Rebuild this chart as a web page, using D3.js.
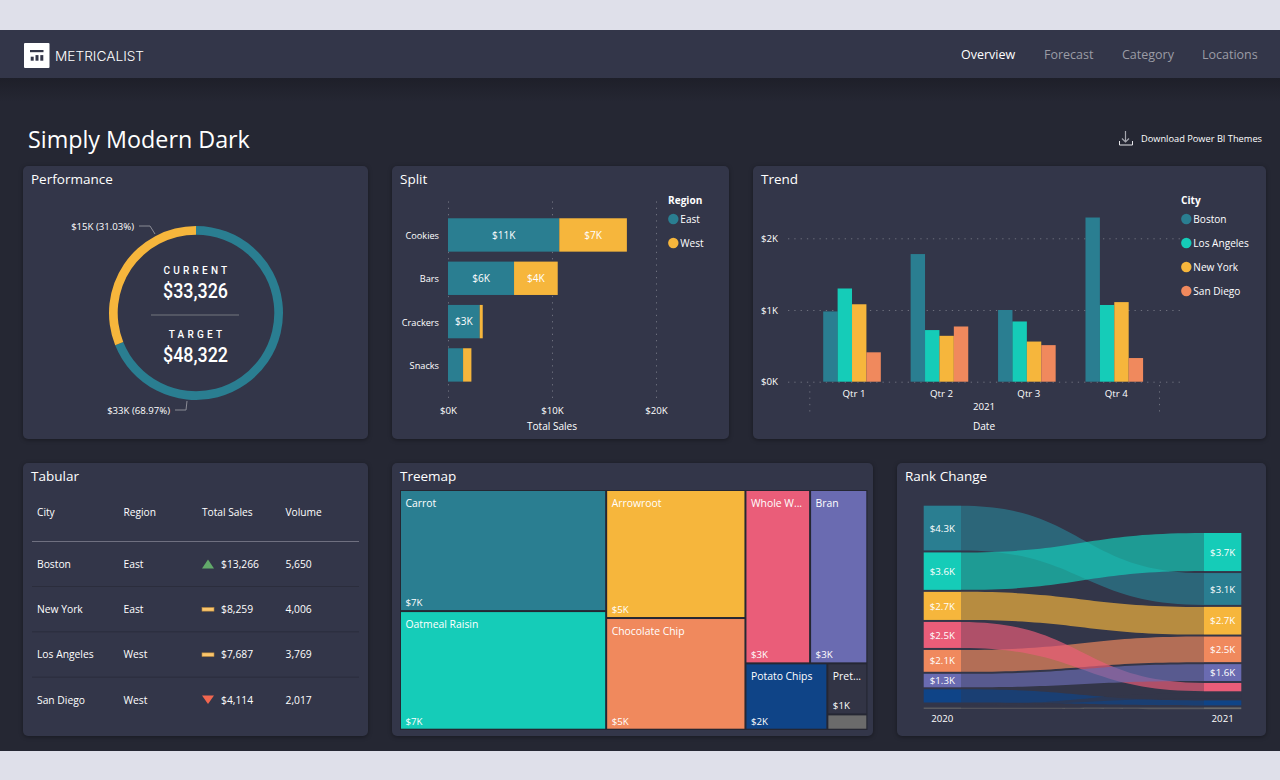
<!DOCTYPE html>
<html>
    <head>
        <meta charset="utf-8">
        <title>Simply Modern Dark</title>
        <script src="https://d3js.org/d3.v7.min.js"></script>
        <style>
            body { margin: 0; background: #dfe0ea; }
            svg { display: block; }
            text { font-family: "Open Sans", sans-serif; fill: #fff; font-size: 10.1px; font-weight: 500; }
            .panel { fill: #333649; filter: drop-shadow(0 1px 2px rgba(0,0,0,.35)); }
            .panelTitle { font-size: 13.5px; font-weight: 400; }
            .grid line { stroke: #6d6f7d; stroke-dasharray: 1.3 5; }
            .axis .domain { display: none; }
            .nav { font-size: 12.5px; fill: #9b9ca5; }
        </style>
    </head>
    <body>
        <svg width="1280" height="780"></svg>
        <script type="text/javascript">

        // colours shared by the whole page
        var teal = "#2a7e91", mint = "#15ccb8", yellow = "#f6b63c", orange = "#f0895d",
            pink = "#ea5d79", purple = "#6a6bb1", navy = "#0f4487", dark = "#333649", gray = "#6b6b6b";

        // nav
        var navItems = ["Overview", "Forecast", "Category", "Locations"];

        // performance donut
        var donutLabels = ["$33K (68.97%)", "$15K (31.03%)"];
        var donutValues = [33326, 14996];
        var donutColors = [teal, yellow];

        // split
        var splitCategories = ["Cookies", "Bars", "Crackers", "Snacks"];
        var splitRegions = ["East", "West"];
        var splitEast = [10700, 6350, 3050, 1450];
        var splitWest = [6500, 4200, 290, 800];
        var splitTicks = [0, 10000, 20000];

        // trend
        var trendQuarters = ["Qtr 1", "Qtr 2", "Qtr 3", "Qtr 4"];
        var trendCities = ["Boston", "Los Angeles", "New York", "San Diego"];
        var trendBoston = [980, 1780, 1000, 2290];
        var trendLA = [1300, 720, 840, 1070];
        var trendNY = [1080, 640, 560, 1110];
        var trendSD = [410, 770, 510, 330];
        var trendTicks = [0, 1000, 2000];
        var trendColors = [teal, mint, yellow, orange];

        // tabular
        var tableHead = ["City", "Region", "Total Sales", "Volume"];
        var tableCity = ["Boston", "New York", "Los Angeles", "San Diego"];
        var tableRegion = ["East", "East", "West", "West"];
        var tableSales = [13266, 8259, 7687, 4114];
        var tableVolume = [5650, 4006, 3769, 2017];
        var tableStatus = ["up", "flat", "flat", "down"];

        // treemap
        var treeNames = ["Carrot", "Oatmeal Raisin", "Arrowroot", "Chocolate Chip", "Whole W...", "Bran", "Potato Chips", "Pret...", ""];
        var treeValues = [7.35, 7.2, 5.25, 4.58, 3.3, 2.92, 1.6, 0.6, 0.18];
        var treeColors = [teal, mint, yellow, orange, pink, purple, navy, "#323445", gray];

        // rank change, index points into the series below
        var rankSeries = ["Carrot", "Oatmeal Raisin", "Arrowroot", "Chocolate Chip", "Whole Wheat", "Bran", "Potato Chips", "Pretzels", "Other"];
        var rankColors = [teal, mint, yellow, orange, pink, purple, navy, dark, gray];
        var rank2020 = [4.3, 3.6, 2.7, 2.1, 2.5, 1.3, 1.27, 0.11, 0.1];
        var rank2021 = [3.06, 3.66, 2.66, 2.46, 0.8, 1.62, 0.48, 0.49, 0.17];
        var rankYears = ["2020", "2021"];

        var svg = d3.select("svg");
        var kFormat = function(v) { return "$" + d3.format(".0f")(v / 1000) + "K"; };

        function addPanel(x, y, w, h, title) {
            svg.append("rect").attr("class", "panel").attr("x", x).attr("y", y)
                .attr("width", w).attr("height", h).attr("rx", 5);
            svg.append("text").attr("class", "panelTitle").attr("x", x + 8).attr("y", y + 18).text(title);
        }

        function addLegend(x, title, names, colors) {
            svg.append("text").attr("x", x).attr("y", 203.5).style("font-weight", 700).text(title);
            var rows = svg.append("g").selectAll("g").data(names).enter().append("g")
                .attr("transform", function(d, i) { return "translate(" + (x + 5.3) + "," + (219 + i * 24) + ")"; });
            rows.append("circle").attr("r", 5.2).attr("fill", function(d, i) { return colors[i]; });
            rows.append("text").attr("x", 7).attr("y", 3.6).text(function(d) { return d; });
        }

        // page frame
        var shade = svg.append("defs").append("linearGradient").attr("id", "shade")
            .attr("x1", 0).attr("y1", 0).attr("x2", 0).attr("y2", 1);
        shade.append("stop").attr("offset", 0).attr("stop-color", "#1e1f29");
        shade.append("stop").attr("offset", 1).attr("stop-color", "#252733");
        svg.append("rect").attr("y", 78).attr("width", 1280).attr("height", 673).attr("fill", "#252733");
        svg.append("rect").attr("y", 78).attr("width", 1280).attr("height", 24).attr("fill", "url(#shade)");
        svg.append("rect").attr("y", 30).attr("width", 1280).attr("height", 48).attr("fill", dark);

        // logo
        svg.append("rect").attr("x", 24).attr("y", 43).attr("width", 25.5).attr("height", 25).attr("rx", 1).attr("fill", "#fff");
        svg.append("rect").attr("x", 30).attr("y", 50).attr("width", 13.5).attr("height", 2.2).attr("fill", dark);
        svg.append("g").selectAll("rect").data([[30.7, 4], [35.5, 5.6], [40.3, 5.6]]).enter().append("rect")
            .attr("x", function(d) { return d[0]; }).attr("y", function(d) { return 60.7 - d[1]; })
            .attr("width", 3).attr("height", function(d) { return d[1]; }).attr("fill", dark);
        svg.append("text").attr("x", 55).attr("y", 60.5)
            .style("font-family", "Inter").style("font-size", "13.7px").style("font-weight", 300).text("METRICALIST");

        // nav items
        var navX = d3.scaleOrdinal().domain(navItems).range([961, 1044, 1122, 1202]);
        svg.append("g").selectAll("text").data(navItems).enter().append("text")
            .attr("class", "nav").attr("x", function(d) { return navX(d); }).attr("y", 59)
            .style("fill", function(d, i) { return i == 0 ? "#fff" : "#9b9ca5"; })
            .text(function(d) { return d; });

        // title and download link
        svg.append("text").attr("x", 28).attr("y", 148).style("font-size", "23.3px").style("font-weight", 400).text("Simply Modern Dark");
        svg.append("path").attr("d", "M1125.5 131V141.5M1122 138.5L1125.5 142L1129 138.5").attr("fill", "none").attr("stroke", "#a5a6ae").attr("stroke-width", 1.2);
        svg.append("path").attr("d", "M1119.5 141V145H1132.5V141").attr("fill", "none").attr("stroke", "#e4e4e8").attr("stroke-width", 1);
        svg.append("text").attr("x", 1141).attr("y", 142).style("font-size", "9.25px").text("Download Power BI Themes");

        addPanel(23, 166, 345, 273, "Performance");
        addPanel(392, 166, 337, 273, "Split");
        addPanel(753, 166, 513, 273, "Trend");
        addPanel(23, 463, 345, 273, "Tabular");
        addPanel(392, 463, 481, 273, "Treemap");
        addPanel(897, 463, 369, 273, "Rank Change");

        // ---- Performance ----
        var pie = d3.pie().sort(null);
        var arc = d3.arc().innerRadius(78.3).outerRadius(87);
        var donut = svg.append("g").attr("transform", "translate(196,313)");
        donut.selectAll("path").data(pie(donutValues)).enter().append("path")
            .attr("d", arc).attr("fill", function(d, i) { return donutColors[i]; });

        svg.append("text").attr("x", 134).attr("y", 229.5).attr("text-anchor", "end").style("font-size", "9.6px").text(donutLabels[1]);
        svg.append("text").attr("x", 170).attr("y", 413.5).attr("text-anchor", "end").style("font-size", "9.6px").text(donutLabels[0]);
        svg.append("path").attr("d", "M139 226H150L155 234").attr("fill", "none").attr("stroke", "#8a8b95");
        svg.append("path").attr("d", "M175 410H186L187 401").attr("fill", "none").attr("stroke", "#8a8b95");

        var kpi = [["CURRENT", "$33,326", 270], ["TARGET", "$48,322", 334]];
        kpi.forEach(function(k) {
            svg.append("text").attr("x", 197).attr("y", k[2] + 3.8).attr("text-anchor", "middle")
                .style("font-family", "Roboto").style("font-size", "10px").style("letter-spacing", "3.2px").text(k[0]);
            svg.append("text").attr("x", 195.5).attr("y", k[2] + 28).attr("text-anchor", "middle")
                .attr("textLength", 65).attr("lengthAdjust", "spacingAndGlyphs")
                .style("font-family", "Roboto").style("font-size", "19.5px").style("font-weight", 500).text(k[1]);
        });
        svg.append("line").attr("x1", 151).attr("x2", 239).attr("y1", 315).attr("y2", 315).attr("stroke", "#75767f").attr("stroke-width", 1.2);

        // ---- Split ----
        var splitX = d3.scaleLinear().domain([0, 20000]).range([448, 656]);
        var splitY = d3.scaleBand().domain(splitCategories).range([213.3, 386.6]).paddingInner(0.23).paddingOuter(0.115);

        svg.append("g").attr("class", "axis grid").attr("transform", "translate(0,398)")
            .call(d3.axisBottom(splitX).tickValues(splitTicks).tickSize(-197).tickPadding(9).tickFormat(kFormat))
            .selectAll("text").style("font-size", "9.7px").style("font-family", "Open Sans");

        var splitStack = d3.stack().keys([0, 1]).value(function(d, k) { return k == 0 ? d.east : d.west; })(
            splitCategories.map(function(c, i) { return { cat: c, east: splitEast[i], west: splitWest[i] }; }));

        splitStack.forEach(function(layer, k) {
            var g = svg.append("g");
            g.selectAll("rect").data(layer).enter().append("rect")
                .attr("x", function(d) { return splitX(d[0]); })
                .attr("y", function(d) { return splitY(d.data.cat); })
                .attr("width", function(d) { return splitX(d[1]) - splitX(d[0]); })
                .attr("height", splitY.bandwidth())
                .attr("fill", k == 0 ? teal : yellow);
            // labels only where the bar is wide enough
            g.selectAll("text").data(layer.filter(function(d) { return splitX(d[1]) - splitX(d[0]) > 25; })).enter().append("text")
                .attr("x", function(d) { return (splitX(d[0]) + splitX(d[1])) / 2; })
                .attr("y", function(d) { return splitY(d.data.cat) + splitY.bandwidth() / 2 + 3.6; })
                .attr("text-anchor", "middle")
                .text(function(d) { return kFormat(d[1] - d[0]); });
        });

        svg.append("g").attr("class", "axis").attr("transform", "translate(439,1)")
            .call(d3.axisLeft(splitY).tickSize(0).tickPadding(0))
            .selectAll("text").style("font-size", "9.2px").style("font-family", "Open Sans");

        svg.append("text").attr("x", 552).attr("y", 429.5).attr("text-anchor", "middle").text("Total Sales");
        addLegend(668, "Region", splitRegions, [teal, yellow]);

        // ---- Trend ----
        var trendY = d3.scaleLinear().domain([0, 2000]).range([381.7, 238.3]);
        var trendX0 = d3.scaleBand().domain(trendQuarters).range([808.3, 1158]).paddingInner(0.341).paddingOuter(0.1705);
        var trendX1 = d3.scaleBand().domain(trendCities).range([0, trendX0.bandwidth()]);
        var trendSeries = [trendBoston, trendLA, trendNY, trendSD];

        svg.append("g").attr("class", "axis grid").attr("transform", "translate(788,0)")
            .call(d3.axisLeft(trendY).tickValues(trendTicks).tickSize(-392).tickPadding(10).tickFormat(kFormat))
            .selectAll("text").style("font-size", "9.7px").style("font-family", "Open Sans");

        svg.append("g").attr("class", "grid").selectAll("line").data(trendX0.range()).enter().append("line")
            .attr("x1", function(d) { return d + 1.5; }).attr("x2", function(d) { return d + 1.5; })
            .attr("y1", 385).attr("y2", 415);

        trendSeries.forEach(function(values, s) {
            svg.append("g").selectAll("rect").data(values).enter().append("rect")
                .attr("x", function(d, i) { return trendX0(trendQuarters[i]) + trendX1(trendCities[s]); })
                .attr("y", function(d) { return trendY(d); })
                .attr("width", trendX1.bandwidth())
                .attr("height", function(d) { return trendY(0) - trendY(d); })
                .attr("fill", trendColors[s]);
        });

        svg.append("g").attr("class", "axis").attr("transform", "translate(2,382)")
            .call(d3.axisBottom(trendX0).tickSize(0).tickPadding(8))
            .selectAll("text").style("font-size", "9.7px").style("font-family", "Open Sans");

        svg.append("text").attr("x", 984).attr("y", 409.5).attr("text-anchor", "middle").style("font-size", "9.7px").text("2021");
        svg.append("text").attr("x", 984).attr("y", 429.5).attr("text-anchor", "middle").text("Date");
        addLegend(1181, "City", trendCities, trendColors);

        // ---- Tabular ----
        var colX = [37, 123.5, 202, 285.5];
        svg.append("g").selectAll("text").data(tableHead).enter().append("text")
            .attr("x", function(d, i) { return colX[i]; }).attr("y", 515.7).style("font-size", "10.2px")
            .text(function(d) { return d; });
        svg.append("line").attr("x1", 32).attr("x2", 359).attr("y1", 541.5).attr("y2", 541.5).attr("stroke", "#6f7080");

        var rowY = d3.scalePoint().domain(tableCity).range([564, 700]);
        var fmtInt = d3.format(",");

        var rows = svg.append("g").selectAll("g").data(tableCity).enter().append("g")
            .attr("transform", function(d) { return "translate(0," + rowY(d) + ")"; });

        rows.filter(function(d, i) { return i < tableCity.length - 1; }).append("line")
            .attr("x1", 32).attr("x2", 359).attr("y1", 22.5).attr("y2", 22.5).attr("stroke", "#2b2d3c");
        rows.append("text").attr("x", colX[0]).attr("y", 3.6).style("font-size", "10.3px").text(function(d) { return d; });
        rows.append("text").attr("x", colX[1]).attr("y", 3.6).style("font-size", "10.3px").text(function(d, i) { return tableRegion[i]; });
        rows.append("text").attr("x", 221).attr("y", 3.6).style("font-size", "10.3px").text(function(d, i) { return "$" + fmtInt(tableSales[i]); });
        rows.append("text").attr("x", colX[3]).attr("y", 3.6).style("font-size", "10.3px").text(function(d, i) { return fmtInt(tableVolume[i]); });

        rows.each(function(d, i) {
            var g = d3.select(this), st = tableStatus[i];
            if (st == "up") {
                g.append("path").attr("d", "M202 4.5L208 -4.5L214 4.5Z").attr("fill", "#62a96a");
            } else if (st == "down") {
                g.append("path").attr("d", "M202 -4.5L214 -4.5L208 4Z").attr("fill", "#f2664f");
            } else {
                g.append("rect").attr("x", 202).attr("y", -1.8).attr("width", 12).attr("height", 3.6)
                    .attr("fill", "#fbc56b").attr("stroke", "#b98a3d").attr("stroke-width", 0.6);
            }
        });

        // ---- Treemap ----
        svg.append("rect").attr("x", 400).attr("y", 490).attr("width", 467.5).attr("height", 240).attr("fill", "#252733");

        function leaf(i) { return { name: treeNames[i], value: treeValues[i], color: treeColors[i] }; }

        var treeRoot = d3.hierarchy({ children: [
            { children: [leaf(0), leaf(1)] },
            { children: [leaf(2), leaf(3)] },
            { children: [
                { children: [leaf(4), leaf(5)] },
                { children: [leaf(6), { children: [leaf(7), leaf(8)] }] }
            ] }
        ] }).sum(function(d) { return d.value; });

        // the layout of the original alternates columns and rows
        d3.treemap()
            .tile(function(node, x0, y0, x1, y1) {
                (node.depth % 2 == 0 ? d3.treemapDice : d3.treemapSlice)(node, x0, y0, x1, y1);
            })
            .size([465.3, 237.7])
            .paddingInner(2)(treeRoot);

        var cells = svg.append("g").attr("transform", "translate(401,491)")
            .selectAll("g").data(treeRoot.leaves()).enter().append("g")
            .attr("transform", function(d) { return "translate(" + d.x0 + "," + d.y0 + ")"; });

        cells.append("rect")
            .attr("width", function(d) { return d.x1 - d.x0; })
            .attr("height", function(d) { return d.y1 - d.y0; })
            .attr("fill", function(d) { return d.data.color; });
        cells.filter(function(d) { return d.data.name != ""; }).append("text")
            .attr("x", 4.5).attr("y", 16).style("font-size", "10.4px")
            .text(function(d) { return d.data.name; });
        cells.filter(function(d) { return d.data.name != ""; }).append("text")
            .attr("x", 4.5).attr("y", function(d) { return d.y1 - d.y0 - 4; }).style("font-size", "9.7px")
            .text(function(d) { return "$" + Math.round(d.data.value) + "K"; });

        // ---- Rank Change ----
        var rankH = d3.scaleLinear().domain([0, 1]).range([0, 10.4]);
        var rankX = d3.scalePoint().domain(rankYears).range([923.7, 1204]);
        var nodeW = 37.3;

        // stack one year from its top, biggest first
        function stackYear(values, top) {
            var pos = [], y = top;
            d3.range(values.length).sort(function(a, b) { return values[b] - values[a]; }).forEach(function(i) {
                pos[i] = { y0: y, y1: y + rankH(values[i]) };
                y = pos[i].y1 + 2;
            });
            return pos;
        }

        var posL = stackYear(rank2020, 505.7);
        var posR = stackYear(rank2021, 533);
        var xL = rankX("2020"), xR = rankX("2021");

        var ribbon = d3.area().curve(d3.curveBumpX)
            .x(function(d) { return d.x; }).y0(function(d) { return d.y0; }).y1(function(d) { return d.y1; });

        rankSeries.forEach(function(s, i) {
            svg.append("path").attr("fill", rankColors[i]).attr("opacity", 0.68)
                .attr("d", ribbon([
                    { x: xL + nodeW, y0: posL[i].y0, y1: posL[i].y1 },
                    { x: xR, y0: posR[i].y0, y1: posR[i].y1 }
                ]));
        });

        [[xL, posL, rank2020], [xR, posR, rank2021]].forEach(function(side) {
            var g = svg.append("g");
            g.selectAll("rect").data(rankSeries).enter().append("rect")
                .attr("x", side[0]).attr("width", nodeW)
                .attr("y", function(d, i) { return side[1][i].y0; })
                .attr("height", function(d, i) { return side[1][i].y1 - side[1][i].y0; })
                .attr("fill", function(d, i) { return rankColors[i]; });
            g.selectAll("text").data(rankSeries.filter(function(d, i) { return side[2][i] >= 1.3 && i != 6; })).enter().append("text")
                .attr("x", side[0] + nodeW / 2).attr("text-anchor", "middle").style("font-size", "9.7px")
                .attr("y", function(d) {
                    var p = side[1][rankSeries.indexOf(d)];
                    return (p.y0 + p.y1) / 2 + 3.6;
                })
                .text(function(d) { return "$" + d3.format(".1f")(side[2][rankSeries.indexOf(d)]) + "K"; });
        });

        svg.append("g").selectAll("text").data(rankYears).enter().append("text")
            .attr("x", function(d) { return rankX(d) + nodeW / 2; }).attr("y", 721.5)
            .attr("text-anchor", "middle").style("font-size", "9.7px")
            .text(function(d) { return d; });

        </script>
    </body>
</html>
